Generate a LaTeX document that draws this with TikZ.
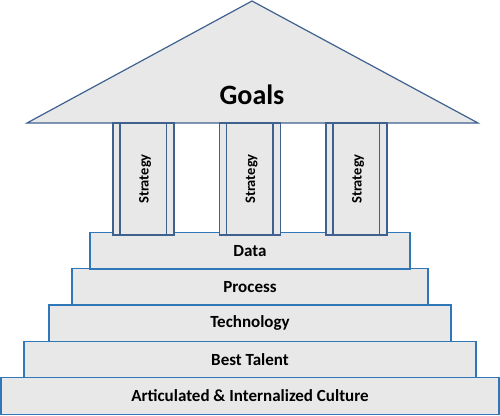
\documentclass[tikz,border=0pt]{standalone}
\usepackage{fontspec}
\setmainfont{Carlito}
\usetikzlibrary{positioning}
\definecolor{roofline}{HTML}{3F6190}
\definecolor{stepline}{HTML}{2F77B9}
\definecolor{stonefill}{HTML}{E8E8E8}
\tikzset{
  % the roof and the pillars
  roof/.style = {
    draw = roofline,
    fill = stonefill,
    line width = 1.2pt,
    line join = miter
  },
  pillar/.style = {
    roof,
    rectangle,
    minimum width = 61pt,
    minimum height = 112pt,
    inner sep = 0
  },
  % one stair of the base
  stepbox/.style = {
    draw = stepline,
    fill = stonefill,
    line width = 1.2pt,
    rectangle,
    minimum height = 36.3pt,
    inner sep = 0,
    font = \fontsize{17}{20}\selectfont\bfseries
  },
  pillartext/.style = {
    font = \fontsize{14.5}{17}\selectfont\bfseries,
    rotate = 90
  }
}
\begin{document}
\begin{tikzpicture}[x=1pt, y=-1pt]
    \useasboundingbox (0,0) rectangle (500,415);

    % roof
    \coordinate (apex) at (252,1);
    \coordinate (eaveL) at (27,123);
    \coordinate (eaveR) at (478,123);
    \draw[roof] (apex) -- (eaveR) -- (eaveL) -- cycle;
    \node[font=\fontsize{28}{32}\selectfont\bfseries] (goals) at (252,95) {Goals};

    % stairs
    \node[stepbox, minimum width=498pt] (culture) at (250,396) {Articulated \& Internalized Culture};
    \node[stepbox, minimum width=452pt] (talent) at (250,359.6) {Best Talent};
    \node[stepbox, minimum width=402pt] (tech) at (250,323.2) {Technology};
    \node[stepbox, minimum width=356pt] (process) at (250,286.9) {Process};
    \node[stepbox, minimum width=320pt] (data) at (250,250.8) {Data};

    % pillars
    \foreach \x/\name in {143.5/left, 250/mid, 356.5/right} {
      \node[pillar] (\name) at (\x,179) {};
      \draw[roof] ([xshift=-23.5pt]\name.north) -- ([xshift=-23.5pt]\name.south);
      \draw[roof] ([xshift=23pt]\name.north) -- ([xshift=23pt]\name.south);
      \node[pillartext] (\name text) at ([xshift=1.5pt]\name.center) {Strategy};
    }
  \end{tikzpicture}
\end{document}
